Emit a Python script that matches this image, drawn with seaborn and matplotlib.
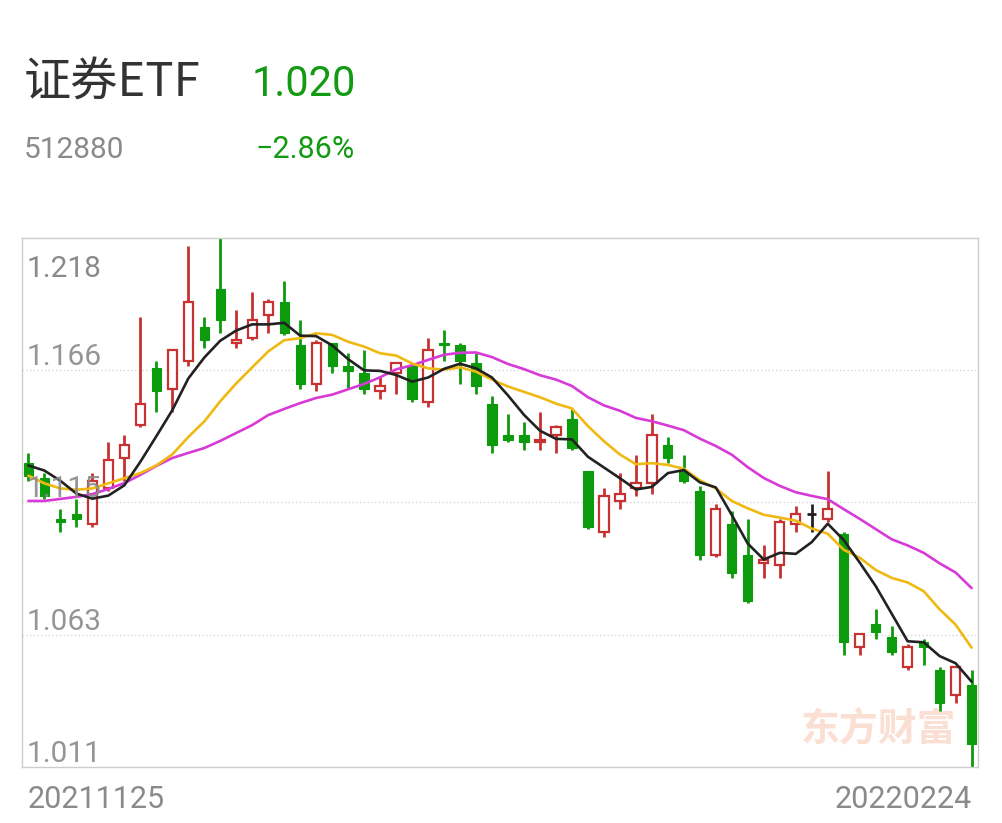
import numpy as np
import matplotlib
matplotlib.use("Agg")
import matplotlib.pyplot as plt
import matplotlib.transforms as mtransforms
import seaborn as sns

# ---------------- data ----------------
opens = [1.130, 1.124, 1.108, 1.110, 1.106, 1.120, 1.132, 1.145, 1.167, 1.159,
         1.170, 1.183, 1.198, 1.177, 1.179, 1.188, 1.193, 1.176, 1.161, 1.177,
         1.168, 1.165, 1.158, 1.165, 1.168, 1.154, 1.177, 1.176, 1.169, 1.153,
         1.141, 1.141, 1.138, 1.141, 1.147, 1.127, 1.103, 1.115, 1.120, 1.122,
         1.137, 1.127, 1.119, 1.094, 1.106, 1.094, 1.091, 1.090, 1.106, 1.110,
         1.108, 1.102, 1.058, 1.067, 1.062, 1.050, 1.060, 1.049, 1.039, 1.043]
highs = [1.134, 1.126, 1.112, 1.116, 1.126, 1.138, 1.141, 1.187, 1.170, 1.174,
         1.215, 1.187, 1.218, 1.190, 1.197, 1.194, 1.201, 1.186, 1.178, 1.177,
         1.173, 1.174, 1.164, 1.169, 1.169, 1.179, 1.182, 1.177, 1.173, 1.156,
         1.149, 1.146, 1.150, 1.145, 1.151, 1.127, 1.120, 1.126, 1.133, 1.149,
         1.140, 1.133, 1.121, 1.114, 1.111, 1.108, 1.098, 1.108, 1.113, 1.114,
         1.127, 1.103, 1.063, 1.073, 1.066, 1.059, 1.061, 1.050, 1.050, 1.049]
lows = [1.123, 1.116, 1.103, 1.105, 1.105, 1.119, 1.123, 1.144, 1.150, 1.150,
        1.168, 1.175, 1.181, 1.175, 1.178, 1.181, 1.180, 1.159, 1.158, 1.165,
        1.159, 1.157, 1.155, 1.157, 1.154, 1.152, 1.170, 1.161, 1.157, 1.134,
        1.138, 1.135, 1.135, 1.134, 1.135, 1.104, 1.101, 1.112, 1.117, 1.118,
        1.130, 1.122, 1.092, 1.093, 1.085, 1.075, 1.085, 1.085, 1.103, 1.103,
        1.107, 1.055, 1.055, 1.061, 1.055, 1.049, 1.051, 1.033, 1.036, 1.011]
closes = [1.125, 1.117, 1.107, 1.108, 1.123, 1.131, 1.137, 1.153, 1.158, 1.174,
          1.193, 1.178, 1.186, 1.178, 1.186, 1.193, 1.181, 1.161, 1.177, 1.168,
          1.166, 1.159, 1.160, 1.169, 1.155, 1.174, 1.176, 1.170, 1.160, 1.137,
          1.139, 1.138, 1.139, 1.144, 1.136, 1.105, 1.117, 1.118, 1.122, 1.141,
          1.132, 1.123, 1.094, 1.112, 1.087, 1.076, 1.092, 1.107, 1.110, 1.110,
          1.112, 1.060, 1.063, 1.064, 1.056, 1.058, 1.058, 1.036, 1.050, 1.020]

ma5 = [1.1290, 1.1270, 1.1230, 1.1180, 1.1160, 1.1172, 1.1212, 1.1304, 1.1404, 1.1506,
       1.1630, 1.1712, 1.1778, 1.1818, 1.1842, 1.1842, 1.1848, 1.1798, 1.1796, 1.1760,
       1.1706, 1.1662, 1.1660, 1.1644, 1.1618, 1.1634, 1.1668, 1.1688, 1.1670, 1.1634,
       1.1564, 1.1488, 1.1426, 1.1394, 1.1392, 1.1324, 1.1282, 1.1240, 1.1196, 1.1206,
       1.1260, 1.1272, 1.1224, 1.1204, 1.1096, 1.0984, 1.0922, 1.0948, 1.0944, 1.0990,
       1.1062, 1.0998, 1.0910, 1.0818, 1.0710, 1.0602, 1.0598, 1.0544, 1.0516, 1.0444]
ma10 = [1.1250, 1.1220, 1.1200, 1.1195, 1.1200, 1.1220, 1.1240, 1.1260, 1.1290, 1.1333,
        1.1401, 1.1462, 1.1541, 1.1611, 1.1674, 1.1736, 1.1780, 1.1788, 1.1807, 1.1801,
        1.1774, 1.1755, 1.1729, 1.1720, 1.1689, 1.1670, 1.1665, 1.1674, 1.1657, 1.1626,
        1.1599, 1.1578, 1.1557, 1.1532, 1.1513, 1.1444, 1.1385, 1.1333, 1.1295, 1.1299,
        1.1292, 1.1277, 1.1232, 1.1200, 1.1151, 1.1122, 1.1097, 1.1086, 1.1074, 1.1043,
        1.1023, 1.0960, 1.0929, 1.0881, 1.0850, 1.0832, 1.0798, 1.0727, 1.0667, 1.0577]
ma20 = [1.1151, 1.1151, 1.1159, 1.1167, 1.1178, 1.1198, 1.1221, 1.1253, 1.1288, 1.1319,
        1.1339, 1.1358, 1.1386, 1.1417, 1.1448, 1.1487, 1.1511, 1.1534, 1.1554, 1.1567,
        1.1588, 1.1609, 1.1635, 1.1666, 1.1682, 1.1703, 1.1723, 1.1731, 1.1732, 1.1714,
        1.1687, 1.1667, 1.1643, 1.1626, 1.1601, 1.1557, 1.1525, 1.1504, 1.1476, 1.1463,
        1.1446, 1.1428, 1.1395, 1.1366, 1.1332, 1.1283, 1.1241, 1.1210, 1.1185, 1.1171,
        1.1158, 1.1119, 1.1081, 1.1041, 1.1001, 1.0977, 1.0948, 1.0907, 1.0871, 1.0810]

y_ticks = [1.218, 1.1663, 1.1145, 1.0628, 1.011]
y_tick_labels = ["1.218", "1.166", "1.115", "1.063", "1.011"]
date_labels = ["20211125", "20220224"]
title_name = "证券ETF"
title_code = "512880"
last_price = "1.020"
change_pct = "\u22122.86%"
watermark = "东方财富"

# ---------------- style ----------------
sns.set_theme(style="white")
plt.rcParams["font.family"] = ["Roboto", "Noto Sans CJK SC", "DejaVu Sans"]

RED = "#C83232"
GREEN = "#0C9B0C"
DOJI = "#222222"
GRAY = "#8a8a8a"

W, H = 1002, 823
fig = plt.figure(figsize=(W / 100, H / 100), dpi=100)
fig.patch.set_facecolor("white")
ax = fig.add_axes([22 / W, 56 / H, 956 / W, 529 / H])
ax.set_facecolor("white")

n = len(closes)
x = np.arange(n)
o = np.array(opens); c = np.array(closes)
hi = np.array(highs); lo = np.array(lows)

ax.set_xlim(-0.4, n - 1 + 0.4)
ax.set_ylim(1.011, 1.218)

# grid lines (dotted)
for v in y_ticks[1:-1]:
    ax.axhline(v, color="#cfcfcf", lw=0.9, ls=(0, (1, 2)), zorder=0.5)

# watermark
ax.text((878 - 22) / 956, (767 - 730) / 529, watermark, transform=ax.transAxes,
        ha="center", va="center", fontsize=28, fontweight="bold",
        family=["Noto Sans CJK SC"], color="#fadfd2", zorder=0.6)

# candles
up = c > o
down = c < o
flat = c == o
cols = np.where(up, RED, np.where(down, GREEN, DOJI))
ax.vlines(x, lo, hi, colors=cols, lw=2.0, zorder=2)
bw = 0.58
body_h = np.maximum(np.abs(c - o), 0.0009)
bottoms = np.minimum(o, c)
ax.bar(x[up], body_h[up], bottom=bottoms[up], width=bw, facecolor="white",
       edgecolor=RED, linewidth=1.6, zorder=3)
ax.bar(x[down], body_h[down], bottom=bottoms[down], width=bw, facecolor=GREEN,
       edgecolor=GREEN, linewidth=0.8, zorder=3)
ax.hlines(c[flat], x[flat] - bw / 2, x[flat] + bw / 2, colors=DOJI, lw=2.0, zorder=3)

# moving averages
sns.lineplot(x=x, y=ma20, ax=ax, color="#D83AD8", linewidth=1.9, zorder=5)
sns.lineplot(x=x, y=ma10, ax=ax, color="#F0B912", linewidth=1.9, zorder=5)
sns.lineplot(x=x, y=ma5, ax=ax, color="#222222", linewidth=1.9, zorder=5)

ax.set_xticks([]); ax.set_yticks([])
ax.set_xlabel(""); ax.set_ylabel("")
for s in ax.spines.values():
    s.set_color("#cccccc"); s.set_linewidth(1.0)

# y labels
blend = mtransforms.blended_transform_factory(ax.transAxes, ax.transData)
lx = 5 / 956
for v, lab in zip(y_ticks, y_tick_labels):
    if lab == y_tick_labels[0]:
        tr = mtransforms.offset_copy(blend, fig=fig, x=0, y=-17, units="dots")
        ax.text(lx, v, lab, transform=tr, ha="left", va="top", fontsize=21.5,
                color=GRAY, zorder=6)
    else:
        tr = mtransforms.offset_copy(blend, fig=fig, x=0, y=5, units="dots")
        ax.text(lx, v, lab, transform=tr, ha="left", va="baseline", fontsize=21.5,
                color=GRAY, alpha=0.9, zorder=6)

# date labels
fig.text(28 / W, 1 - 808 / H, date_labels[0], ha="left", va="baseline",
         fontsize=22, color=GRAY)
fig.text(972 / W, 1 - 808 / H, date_labels[1], ha="right", va="baseline",
         fontsize=22, color=GRAY)

# header
fig.text(24 / W, 1 - 97 / H, title_name, ha="left", va="baseline", fontsize=34,
         color="#333333", family=["Noto Sans CJK SC"])
fig.text(252 / W, 1 - 96 / H, last_price, ha="left", va="baseline", fontsize=30,
         color="#129A12")
fig.text(24 / W, 1 - 158 / H, title_code, ha="left", va="baseline", fontsize=21.5,
         color=GRAY)
fig.text(256 / W, 1 - 158 / H, change_pct, ha="left", va="baseline", fontsize=22,
         color="#129A12", family=["Roboto", "DejaVu Sans"])

fig.savefig("out.png", dpi=100, facecolor="white")
